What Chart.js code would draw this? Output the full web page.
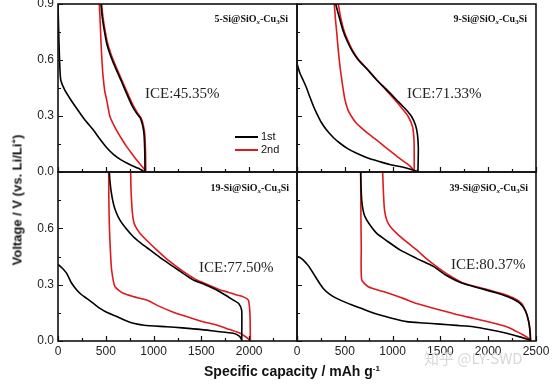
<!DOCTYPE html>
<html>
<head>
<meta charset="utf-8">
<script src="https://cdn.jsdelivr.net/npm/chart.js@4"></script>
<style>
  body { margin: 0; background: #fff; }
  #wrap { position: relative; width: 558px; height: 384px; overflow: hidden; font-family: 'Liberation Sans', Arial, sans-serif; }
  canvas { position: absolute; left: 0; top: 0; }
  .tag { position: absolute; font: bold 10px 'Liberation Serif', serif; color: #111; white-space: nowrap; }
  .tag sub { font-size: 7px; vertical-align: -2px; }
  .ice { position: absolute; font: 15px 'Liberation Serif', serif; color: #222; white-space: nowrap; line-height: 16px; }
  .leg { position: absolute; font: 11px 'Liberation Sans', Arial, sans-serif; color: #111; line-height: 12px; }
  .leg i { position: absolute; left: -26px; top: 6px; width: 23px; height: 0; border-top: 2px solid; }
  .ytitle { position: absolute; left: 17px; top: 200px; transform: translate(-50%, -50%) rotate(-90deg); font: bold 13px 'Liberation Sans', Arial, sans-serif; color: #111; white-space: nowrap; }
  .xtitle { position: absolute; left: 292px; top: 371px; transform: translate(-50%, -50%); font: bold 14px 'Liberation Sans', Arial, sans-serif; color: #111; white-space: nowrap; }
  sup { font-size: 8px; vertical-align: 5px; }
  .wm { position: absolute; left: 424px; top: 347px; font: 15px 'Noto Sans CJK SC', sans-serif; color: #d9d9d9; white-space: nowrap; }
</style>
</head>
<body>
<div id="wrap">
  <canvas id="c5" width="558" height="384"></canvas>
  <canvas id="c9" width="558" height="384"></canvas>
  <canvas id="c19" width="558" height="384"></canvas>
  <canvas id="c39" width="558" height="384"></canvas>

  <div class="tag" style="right:270px; top:13px">5-Si@SiO<sub><i>x</i></sub>-Cu<sub>3</sub>Si</div>
  <div class="tag" style="right:31px; top:13px">9-Si@SiO<sub><i>x</i></sub>-Cu<sub>3</sub>Si</div>
  <div class="tag" style="right:269px; top:182px">19-Si@SiO<sub><i>x</i></sub>-Cu<sub>3</sub>Si</div>
  <div class="tag" style="right:30px; top:182px">39-Si@SiO<sub><i>x</i></sub>-Cu<sub>3</sub>Si</div>

  <div class="ice" style="left:145px; top:85px">ICE:45.35%</div>
  <div class="ice" style="left:407px; top:85px">ICE:71.33%</div>
  <div class="ice" style="left:199px; top:259px">ICE:77.50%</div>
  <div class="ice" style="left:451px; top:256px">ICE:80.37%</div>

  <div class="leg" style="left:261px; top:130px"><i style="border-color:#000"></i>1st</div>
  <div class="leg" style="left:261px; top:143px"><i style="border-color:#e0191e"></i>2nd</div>

  <div class="ytitle">Voltage / V (vs. Li/Li<sup>+</sup>)</div>
  <div class="xtitle">Specific capacity / mAh g<sup>-1</sup></div>
  <div class="wm">知乎 @LY-SWD</div>
</div>
<script>
const xTicks = [0, 500, 1000, 1500, 2000, 2500];
const yTicks = [0, 0.3, 0.6, 0.9];
const colors = { first: '#000000', second: '#e0191e' };

// 5-Si@SiOx-Cu3Si  [capacity, voltage]
const si5_dis1 = [[0,0.9],[10,0.7],[20,0.55],[30,0.49],[70,0.44],[130,0.39],[196,0.34],[280,0.28],[370,0.225],[440,0.175],[510,0.13],[580,0.095],[660,0.065],[750,0.04],[840,0.02],[910,0]];
const si5_ch1  = [[910,0],[908,0.1],[900,0.2],[885,0.25],[860,0.29],[823,0.314],[770,0.36],[718,0.42],[660,0.49],[596,0.564],[545,0.63],[509,0.69],[477,0.78],[460,0.84],[450,0.9]];
const si5_dis2 = [[432,0.9],[440,0.82],[446,0.743],[455,0.64],[470,0.52],[490,0.43],[509,0.386],[544,0.296],[585,0.25],[631,0.207],[675,0.17],[718,0.136],[770,0.1],[823,0.064],[870,0.035],[910,0.01],[915,0]];
const si5_ch2  = [[918,0],[916,0.1],[908,0.2],[893,0.25],[868,0.29],[830,0.318],[778,0.365],[725,0.425],[665,0.495],[602,0.57],[552,0.635],[516,0.695],[485,0.78],[468,0.84],[456,0.9]];

// 9-Si@SiOx-Cu3Si
const si9_dis1 = [[0,0.58],[30,0.53],[66,0.49],[100,0.45],[136,0.4],[170,0.355],[206,0.314],[255,0.265],[310,0.225],[380,0.185],[450,0.154],[530,0.125],[624,0.1],[740,0.075],[868,0.055],[970,0.04],[1077,0.029],[1170,0.017],[1260,0.003]];
const si9_ch1  = [[1265,0],[1268,0.07],[1269,0.134],[1260,0.2],[1240,0.25],[1200,0.296],[1130,0.34],[1043,0.386],[940,0.44],[834,0.493],[735,0.55],[641,0.6],[575,0.65],[520,0.707],[480,0.76],[450,0.814],[425,0.86],[405,0.9]];
const si9_dis2 = [[390,0.9],[402,0.82],[415,0.75],[432,0.65],[450,0.564],[475,0.47],[502,0.386],[535,0.33],[572,0.296],[615,0.265],[659,0.243],[745,0.205],[834,0.171],[920,0.135],[1007,0.1],[1080,0.07],[1147,0.046],[1195,0.025],[1224,0.005]];
const si9_ch2  = [[1226,0],[1226,0.1],[1224,0.17],[1210,0.24],[1165,0.296],[1100,0.34],[1025,0.386],[930,0.44],[834,0.493],[738,0.55],[648,0.6],[583,0.65],[530,0.707],[490,0.76],[462,0.814],[445,0.86],[432,0.9]];

// 19-Si@SiOx-Cu3Si
const si19_dis1 = [[0,0.408],[40,0.39],[91,0.36],[140,0.31],[196,0.272],[250,0.245],[300,0.227],[370,0.2],[439,0.174],[520,0.15],[614,0.13],[700,0.11],[788,0.094],[900,0.084],[1137,0.076],[1300,0.07],[1485,0.062],[1650,0.052],[1834,0.041],[1900,0.025],[1920,0.008]];
const si19_ch1  = [[1922,0],[1923,0.08],[1921,0.165],[1890,0.2],[1834,0.218],[1750,0.245],[1660,0.272],[1540,0.3],[1416,0.325],[1310,0.36],[1206,0.396],[1080,0.44],[962,0.485],[870,0.52],[788,0.555],[710,0.6],[648,0.644],[605,0.69],[579,0.733],[555,0.8],[542,0.86],[537,0.9]];
const si19_dis2 = [[530,0.9],[532,0.75],[538,0.6],[548,0.48],[561,0.378],[596,0.289],[683,0.254],[800,0.235],[927,0.218],[1067,0.183],[1200,0.155],[1346,0.13],[1500,0.105],[1660,0.085],[1790,0.062],[1904,0.041],[1970,0.02],[2008,0.005]];
const si19_ch2  = [[2012,0],[2010,0.1],[2005,0.17],[1991,0.218],[1940,0.235],[1869,0.245],[1780,0.26],[1695,0.272],[1570,0.3],[1451,0.325],[1340,0.36],[1241,0.396],[1130,0.44],[1032,0.485],[940,0.53],[858,0.573],[810,0.61],[788,0.644],[775,0.7],[771,0.733],[764,0.8],[760,0.9]];

// 39-Si@SiOx-Cu3Si
const si39_dis1 = [[0,0.449],[30,0.445],[66,0.431],[120,0.4],[171,0.36],[220,0.32],[275,0.28],[340,0.25],[415,0.227],[520,0.203],[624,0.183],[740,0.16],[868,0.138],[1000,0.12],[1147,0.103],[1320,0.096],[1496,0.09],[1670,0.083],[1844,0.076],[2020,0.06],[2193,0.041],[2330,0.022],[2437,0.005]];
const si39_ch1  = [[2442,0],[2435,0.06],[2420,0.112],[2390,0.16],[2333,0.2],[2230,0.23],[2100,0.254],[1920,0.28],[1730,0.307],[1560,0.35],[1430,0.396],[1250,0.44],[1077,0.485],[950,0.53],[834,0.573],[760,0.62],[711,0.662],[690,0.7],[677,0.751],[670,0.82],[666,0.9]];
const si39_dis2 = [[666,0.9],[668,0.7],[672,0.5],[677,0.325],[746,0.289],[903,0.263],[1112,0.227],[1251,0.2],[1496,0.165],[1680,0.14],[1844,0.121],[2020,0.1],[2193,0.076],[2300,0.05],[2367,0.032],[2420,0.015],[2442,0.003]];
const si39_ch2  = [[2445,0],[2438,0.06],[2420,0.112],[2390,0.16],[2350,0.2],[2260,0.23],[2130,0.254],[1950,0.28],[1745,0.307],[1590,0.35],[1461,0.396],[1350,0.44],[1252,0.485],[1140,0.53],[1043,0.573],[975,0.61],[938,0.644],[915,0.7],[905,0.78],[896,0.9]];

Chart.defaults.font.family = "'Liberation Sans', Arial, sans-serif";
Chart.defaults.font.size = 12;
Chart.defaults.color = '#222';

// frame + inward tick marks
const frame = {
  id: 'frame',
  afterDraw(chart) {
    const { ctx, chartArea: a, scales: { x, y } } = chart;
    ctx.save();
    ctx.strokeStyle = '#111';
    ctx.lineWidth = 1.2;
    ctx.beginPath();
    for (let v = 0; v <= 2500; v += 250) {
      const px = Math.round(x.getPixelForValue(v)) + 0.5;
      const len = v % 500 === 0 ? 5 : 3;
      ctx.moveTo(px, a.bottom); ctx.lineTo(px, a.bottom - len);
    }
    for (let v = 0; v <= 0.9001; v += 0.15) {
      const py = Math.round(y.getPixelForValue(v)) + 0.5;
      const len = Math.abs(v / 0.3 - Math.round(v / 0.3)) < 0.01 ? 5 : 3;
      ctx.moveTo(a.left, py); ctx.lineTo(a.left + len, py);
    }
    ctx.stroke();
    ctx.lineWidth = 1.6;
    ctx.strokeRect(a.left, a.top, a.width, a.height);
    ctx.restore();
  }
};

const pts = arr => arr.map(([x, y]) => ({ x, y }));

function panel(id, curves, padding, showX, showY, hideX, hideY) {
  return new Chart(document.getElementById(id), {
    type: 'scatter',
    data: {
      datasets: curves.map(([d, c]) => ({
        data: pts(d), borderColor: c, borderWidth: 1.6,
        showLine: true, pointRadius: 0, tension: 0.2
      }))
    },
    options: {
      responsive: false,
      animation: false,
      events: [],
      layout: { padding },
      plugins: { legend: { display: false }, tooltip: { enabled: false } },
      scales: {
        x: {
          type: 'linear', min: 0, max: 2500, display: showX,
          grid: { display: false, drawTicks: false }, border: { display: false },
          afterBuildTicks: s => { s.ticks = xTicks.map(v => ({ value: v })); },
          ticks: { padding: 3, autoSkip: false, maxRotation: 0,
                   callback: v => hideX.includes(v) ? '' : String(v) },
          afterFit: s => { if (showX) s.height = 43; s.paddingLeft = 0; s.paddingRight = 0; }
        },
        y: {
          type: 'linear', min: 0, max: 0.9, display: showY,
          grid: { display: false, drawTicks: false }, border: { display: false },
          afterBuildTicks: s => { s.ticks = yTicks.map(v => ({ value: v })); },
          ticks: { padding: 4, autoSkip: false,
                   callback: v => hideY.includes(v) ? '' : v.toFixed(1) },
          afterFit: s => { if (showY) s.width = 58; s.paddingTop = 0; s.paddingBottom = 0; }
        }
      }
    },
    plugins: [frame]
  });
}

const set = (d1, c1, d2, c2) => [[d1, colors.first], [c1, colors.first], [d2, colors.second], [c2, colors.second]];

panel('c5',  set(si5_dis1, si5_ch1, si5_dis2, si5_ch2),     { left: 0,   top: 4,   right: 261, bottom: 212 }, false, true,  [], []);
panel('c9',  set(si9_dis1, si9_ch1, si9_dis2, si9_ch2),     { left: 297, top: 4,   right: 22,  bottom: 212 }, false, false, [], []);
panel('c19', set(si19_dis1, si19_ch1, si19_dis2, si19_ch2), { left: 0,   top: 172, right: 261, bottom: 0 },   true,  true,  [2500], [0.9]);
panel('c39', set(si39_dis1, si39_ch1, si39_dis2, si39_ch2), { left: 297, top: 172, right: 22,  bottom: 0 },   true,  false, [], []);
</script>
</body>
</html>
